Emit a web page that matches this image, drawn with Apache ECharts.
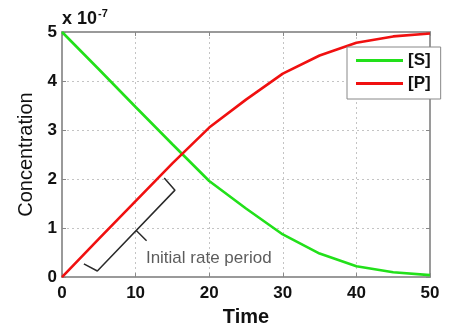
<!DOCTYPE html>
<html>
<head>
<meta charset="utf-8">
<script src="https://cdn.jsdelivr.net/npm/echarts@6/dist/echarts.min.js"></script>
<style>html,body{margin:0;padding:0;background:#fff}#c{width:474px;height:332px}</style>
</head>
<body>
<div id="c"></div>
<script>
// Data (concentration in units of 1e-7)
const time = [0, 5, 10, 15, 20, 25, 30, 35, 40, 45, 50];
const substrateS = [5.00, 4.24, 3.47, 2.71, 1.96, 1.40, 0.87, 0.48, 0.22, 0.10, 0.04];
const productP = [0.00, 0.78, 1.55, 2.32, 3.05, 3.62, 4.15, 4.52, 4.78, 4.91, 4.97];
const xTicks = [0, 10, 20, 30, 40, 50];
const yTicks = [0, 1, 2, 3, 4, 5];
// Bracket annotation (data coordinates)
const bracketX = [2.97, 4.80, 15.35, 13.89];
const bracketY = [0.27, 0.125, 1.774, 2.02];
const notchX = [10.12, 11.49];
const notchY = [0.945, 0.743];
const noteText = 'Initial rate period';
const notePos = [11.4, 0.39];

const FONT = '"Liberation Sans", Arial, sans-serif';
const zip = (a, b) => a.map((v, i) => [v, b[i]]);

const chart = echarts.init(document.getElementById('c'), null, {renderer: 'canvas'});
const axisLineStyle = {color: '#9a9a9a', width: 2};
chart.setOption({
  animation: false,
  backgroundColor: '#fff',
  textStyle: {fontFamily: FONT},
  grid: {left: 62, right: 44, top: 32, bottom: 52, containLabel: false},
  legend: {
    data: [{name: '[S]', icon: 'rect'}, {name: '[P]', icon: 'rect'}],
    orient: 'vertical',
    left: 347, top: 47,
    itemWidth: 47, itemHeight: 3, itemGap: 6,
    padding: [5, 10, 7, 9],
    backgroundColor: '#fff',
    borderColor: '#888', borderWidth: 1,
    textStyle: {fontSize: 17, fontWeight: 'bold', color: '#111', fontFamily: FONT}
  },
  xAxis: [{
    type: 'value', min: xTicks[0], max: xTicks[xTicks.length - 1], interval: 10,
    name: 'Time', nameLocation: 'middle', nameGap: 27,
    nameTextStyle: {fontSize: 20, fontWeight: 'bold', color: '#111', fontFamily: FONT},
    axisLine: {show: true, onZero: false, lineStyle: axisLineStyle},
    axisTick: {show: true, inside: true, length: 4, lineStyle: {color: '#888'}},
    axisLabel: {fontSize: 17, fontWeight: 'bold', color: '#111', margin: 8, fontFamily: FONT},
    splitLine: {show: true, lineStyle: {color: '#c4c4c4', type: [2, 3], width: 1}}
  }, {
    type: 'value', position: 'top', min: xTicks[0], max: xTicks[xTicks.length - 1], interval: 10,
    axisLine: {show: true, onZero: false, lineStyle: axisLineStyle},
    axisTick: {show: true, inside: true, length: 4, lineStyle: {color: '#888'}},
    axisLabel: {show: false}, splitLine: {show: false}
  }],
  yAxis: [{
    type: 'value', min: yTicks[0], max: yTicks[yTicks.length - 1], interval: 1,
    name: 'Concentration', nameLocation: 'middle', nameGap: 21,
    nameTextStyle: {fontSize: 20, color: '#111', fontFamily: FONT},
    axisLine: {show: true, onZero: false, lineStyle: axisLineStyle},
    axisTick: {show: true, inside: true, length: 4, lineStyle: {color: '#888'}},
    axisLabel: {fontSize: 17, fontWeight: 'bold', color: '#111', margin: 5, fontFamily: FONT},
    splitLine: {show: true, lineStyle: {color: '#c4c4c4', type: [2, 3], width: 1}}
  }, {
    type: 'value', position: 'right', min: yTicks[0], max: yTicks[yTicks.length - 1], interval: 1,
    axisLine: {show: true, onZero: false, lineStyle: axisLineStyle},
    axisTick: {show: true, inside: true, length: 4, lineStyle: {color: '#888'}},
    axisLabel: {show: false}, splitLine: {show: false}
  }],
  graphic: [{
    type: 'text', left: 62, top: 8,
    style: {
      text: '{a|x 10}{b|-7}',
      rich: {
        a: {fontSize: 18, fontWeight: 'bold', fill: '#111', fontFamily: FONT, verticalAlign: 'bottom'},
        b: {fontSize: 11, fontWeight: 'bold', fill: '#111', fontFamily: FONT, verticalAlign: 'top', padding: [0, 0, 9, 1]}
      }
    }
  }],
  series: [
    {name: '[S]', type: 'line', data: zip(time, substrateS), symbol: 'none', smooth: false,
     lineStyle: {color: '#22e01a', width: 2.6}, itemStyle: {color: '#22e01a'}, z: 3},
    {name: '[P]', type: 'line', data: zip(time, productP), symbol: 'none', smooth: false,
     lineStyle: {color: '#f01010', width: 2.6}, itemStyle: {color: '#f01010'}, z: 3},
    {name: 'bracket', type: 'line', data: zip(bracketX, bracketY), symbol: 'none', silent: true,
     lineStyle: {color: '#2a2a2a', width: 1.5}, z: 4},
    {name: 'notch', type: 'line', data: zip(notchX, notchY), symbol: 'none', silent: true,
     lineStyle: {color: '#2a2a2a', width: 1.5}, z: 4},
    {name: 'note', type: 'scatter', data: [notePos], symbolSize: 0, silent: true,
     label: {show: true, position: 'right', distance: 0, formatter: noteText,
       fontSize: 17, color: '#333', fontFamily: FONT}, z: 4}
  ]
});
</script>
</body>
</html>
